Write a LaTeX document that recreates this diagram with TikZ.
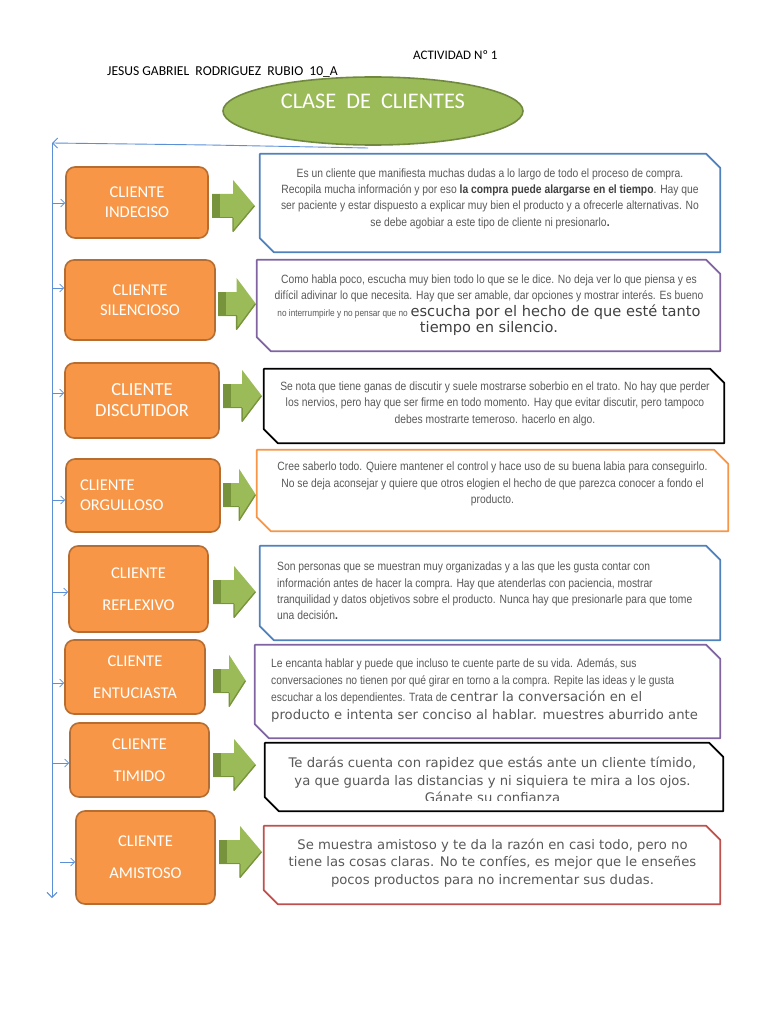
\documentclass[tikz,border=0pt]{standalone}
\usepackage{fontspec}
\setmainfont{Carlito}
\newfontfamily\narrowf[FakeStretch=0.86]{Liberation Sans}
\newfontfamily\dejavu{DejaVu Sans}
\usetikzlibrary{arrows.meta,calc,shapes.geometric}
\definecolor{orangefill}{HTML}{F79646}
\definecolor{orangeline}{HTML}{B66D31}
\definecolor{greenfill}{HTML}{9BBB59}
\definecolor{greendark}{HTML}{77933C}
\definecolor{ellline}{HTML}{71893F}
\definecolor{blueline}{HTML}{4F81BD}
\definecolor{purpleline}{HTML}{8064A2}
\definecolor{redline}{HTML}{C0504D}
\definecolor{txtgray}{HTML}{595959}
\definecolor{txtdark}{HTML}{404040}
\definecolor{connblue}{HTML}{5B8FD6}
\tikzset{
  clientbox/.style={draw=orangeline, line width=1.6pt, fill=orangefill, rounded corners=9pt,
    text=white, align=center, inner sep=0pt, font=\fontsize{16.5}{20}\selectfont},
  frame/.style={inner sep=0pt, minimum width=#1},
  desctext/.style={text=txtgray, inner sep=0pt, font=\narrowf\fontsize{12}{16.4}\selectfont},
  djtext/.style={text=txtgray, inner sep=0pt, font=\dejavu\fontsize{13.2}{17.8}\selectfont},
  conn/.style={draw=connblue, line width=0.9pt},
  smallarrow/.style={draw=connblue, line width=0.7pt, -{Straight Barb[length=4pt,width=8pt]}},
  snip/.style={line width=1.7pt, line join=round},
}
\newcommand{\snipbox}[2]{\draw[snip,#2] (#1.north west) -- ($(#1.north east)+(-14,0)$) -- ($(#1.north east)+(0,14)$) -- (#1.south east) -- ($(#1.south west)+(14,0)$) -- ($(#1.south west)+(0,-14)$) -- cycle;}
\newcommand{\garrow}[3]{%
  \fill[greenfill] (#1,#3-12) -- ({#2-0.51*(#2-#1)},#3-12) -- ({#2-0.51*(#2-#1)},#3-26) -- (#2,#3)
     -- ({#2-0.51*(#2-#1)},#3+26) -- ({#2-0.51*(#2-#1)},#3+12) -- (#1,#3+12) -- cycle;
  \fill[greendark] (#1,#3-12) rectangle (#1+8,#3+12);
  \draw[greendark, line width=1.3pt, line join=round] ({#2-0.51*(#2-#1)},#3+12) -- ({#2-0.51*(#2-#1)},#3+25.3) -- (#2-0.7,#3);
  \draw[greendark, line width=1pt] (#1+8,#3+11.5) -- ({#2-0.51*(#2-#1)},#3+11.5);
}
\begin{document}
\begin{tikzpicture}[x=1pt,y=-1pt]
\useasboundingbox (0,0) rectangle (768,1024);
\fill[white] (0,0) rectangle (768,1024);

% header
\node[anchor=west, inner sep=0pt, font=\fontsize{13}{15}\selectfont] (act) at (413,55) {ACTIVIDAD Nº 1};
\node[anchor=west, inner sep=0pt, font=\fontsize{13.6}{15}\selectfont] (name) at (107,72) {JESUS GABRIEL\ \ RODRIGUEZ\ \ RUBIO\ \ 10\_A};
\node[ellipse, draw=ellline, line width=1.6pt, fill=greenfill, minimum width=300, minimum height=68, inner sep=0pt] (title) at (373,111) {};
\node[text=white, inner sep=0pt, font=\fontsize{22.3}{24}\selectfont] (titletext) at (373,101) {CLASE\ \ DE\ \ CLIENTES};

% client boxes
\node[clientbox, minimum width=142, minimum height=71] (c1) at (137,202.5) {CLIENTE\\INDECISO};
\node[clientbox, minimum width=150, minimum height=80] (c2) at (140,300) {CLIENTE\\SILENCIOSO};
\node[clientbox, minimum width=154, minimum height=75, font=\fontsize{18.5}{21}\selectfont] (c3) at (142,400.5) {CLIENTE\\DISCUTIDOR};
\node[clientbox, minimum width=154, minimum height=73, align=left, text width=126, inner xsep=14pt] (c4) at (143,495.5) {CLIENTE\\ORGULLOSO};
\node[clientbox, minimum width=139, minimum height=86, font=\fontsize{16.5}{32}\selectfont] (c5) at (138.5,589) {CLIENTE\\REFLEXIVO};
\node[clientbox, minimum width=140, minimum height=74, font=\fontsize{16.5}{32}\selectfont] (c6) at (135,677) {CLIENTE\\ENTUCIASTA};
\node[clientbox, minimum width=139, minimum height=74, font=\fontsize{16.5}{32}\selectfont] (c7) at (139.5,760) {CLIENTE\\TIMIDO};
\node[clientbox, minimum width=139, minimum height=93, font=\fontsize{16.5}{32}\selectfont] (c8) at (145.5,857.5) {CLIENTE\\AMISTOSO};

% green arrows
\garrow{212}{255}{206}
\garrow{218}{256}{304}
\garrow{223}{262}{396}
\garrow{223}{256}{495}
\garrow{213}{256}{592}
\garrow{213}{246}{681}
\garrow{213}{256}{765}
\garrow{219}{262}{852}

% description frames
\node[frame=460, minimum height=98] (d1) at (490,203) {};
\node[frame=463, minimum height=91] (d2) at (488.5,305.5) {};
\node[frame=460, minimum height=74] (d3) at (494,406) {};
\node[frame=471, minimum height=81] (d4) at (492.5,490.5) {};
\node[frame=460, minimum height=94] (d5) at (490,593) {};
\node[frame=465, minimum height=93] (d6) at (487.5,691.5) {};
\node[frame=458, minimum height=68] (d7) at (494,777) {};
\node[frame=456, minimum height=78] (d8) at (492,865) {};
\snipbox{d1}{blueline}
\snipbox{d2}{purpleline}
\snipbox{d3}{black}
\snipbox{d4}{orangefill}
\snipbox{d5}{blueline}
\snipbox{d6}{purpleline}
\snipbox{d7}{black}
\snipbox{d8}{redline}

% description texts
\node[desctext, align=center] (t1) at (490,198.5) {Es un cliente que manifiesta muchas dudas a lo largo de todo el proceso de compra.\\
Recopila mucha información y por eso {\color{txtdark}\bfseries la compra puede alargarse en el tiempo}. Hay que\\
ser paciente y estar dispuesto a explicar muy bien el producto y a ofrecerle alternativas. No\\
se debe agobiar a este tipo de cliente ni presionarlo{\color{txtdark}\bfseries .}};
\node[desctext, align=center] (t2) at (489,305) {Como habla poco, escucha muy bien todo lo que se le dice. No deja ver lo que piensa y es\\
difícil adivinar lo que necesita. Hay que ser amable, dar opciones y mostrar interés. Es bueno\\
{\fontsize{9.6}{16.4}\selectfont no interrumpirle y no pensar que no} {\dejavu\color{txtdark}\fontsize{14.6}{16.4}\selectfont escucha por el hecho de que esté tanto}\\
{\dejavu\color{txtdark}\fontsize{14.6}{16.4}\selectfont tiempo en silencio.}};
\node[desctext, align=center] (t3) at (495,403.5) {Se nota que tiene ganas de discutir y suele mostrarse soberbio en el trato. No hay que perder\\
los nervios, pero hay que ser firme en todo momento. Hay que evitar discutir, pero tampoco\\
debes mostrarte temeroso. hacerlo en algo.};
\node[desctext, align=center] (t4) at (492.5,484) {Cree saberlo todo. Quiere mantener el control y hace uso de su buena labia para conseguirlo.\\
No se deja aconsejar y quiere que otros elogien el hecho de que parezca conocer a fondo el\\
producto.};
\node[desctext, align=left, anchor=west] (t5) at (277,591) {Son personas que se muestran muy organizadas y a las que les gusta contar con\\
información antes de hacer la compra. Hay que atenderlas con paciencia, mostrar\\
tranquilidad y datos objetivos sobre el producto. Nunca hay que presionarle para que tome\\
una decisión{\color{txtdark}\bfseries .}};
\node[desctext, align=left, anchor=west, font=\narrowf\fontsize{12}{17.3}\selectfont] (t6) at (271,690) {Le encanta hablar y puede que incluso te cuente parte de su vida. Además, sus\\
conversaciones no tienen por qué girar en torno a la compra. Repite las ideas y le gusta\\
escuchar a los dependientes. Trata de {\dejavu\fontsize{13.2}{17.3}\selectfont centrar la conversación en el}\\
{\dejavu\fontsize{13.2}{17.3}\selectfont producto e intenta ser conciso al hablar. muestres aburrido ante}};
\begin{scope}
\clip (265,745) rectangle (723,800.5);
\node[djtext, align=center] (t7) at (492.5,780) {Te darás cuenta con rapidez que estás ante un cliente tímido,\\
ya que guarda las distancias y ni siquiera te mira a los ojos.\\
Gánate su confianza};
\end{scope}
\node[djtext, align=center] (t8) at (492.5,863) {Se muestra amistoso y te da la razón en casi todo, pero no\\
tiene las cosas claras. No te confíes, es mejor que le enseñes\\
pocos productos para no incrementar sus dudas.};

% left connector
\coordinate (hstart) at (368,148);
\coordinate (hmid) at (210,145);
\coordinate (corner) at (52,143);
\coordinate (vend) at (52,898);
\draw[conn, -{Straight Barb[length=5pt,width=10pt]}] (hstart) -- (hmid) -- (corner);
\draw[conn, -{Straight Barb[length=5pt,width=10pt]}] (corner) -- (vend);
\coordinate (s1) at (52,203);
\coordinate (s2) at (52,288);
\coordinate (s3) at (52,393);
\coordinate (s4) at (52,500);
\coordinate (s5) at (52,592);
\coordinate (s6) at (52,683);
\coordinate (s7) at (52,763);
\coordinate (s8) at (60,862);
\draw[smallarrow] (s1) -- (s1 -| c1.west);
\draw[smallarrow] (s2) -- (s2 -| c2.west);
\draw[smallarrow] (s3) -- (s3 -| c3.west);
\draw[smallarrow] (s4) -- (s4 -| c4.west);
\draw[smallarrow] (s5) -- (s5 -| c5.west);
\draw[smallarrow] (s6) -- (s6 -| c6.west);
\draw[smallarrow] (s7) -- (s7 -| c7.west);
\draw[smallarrow] (s8) -- (s8 -| c8.west);
\end{tikzpicture}
\end{document}
